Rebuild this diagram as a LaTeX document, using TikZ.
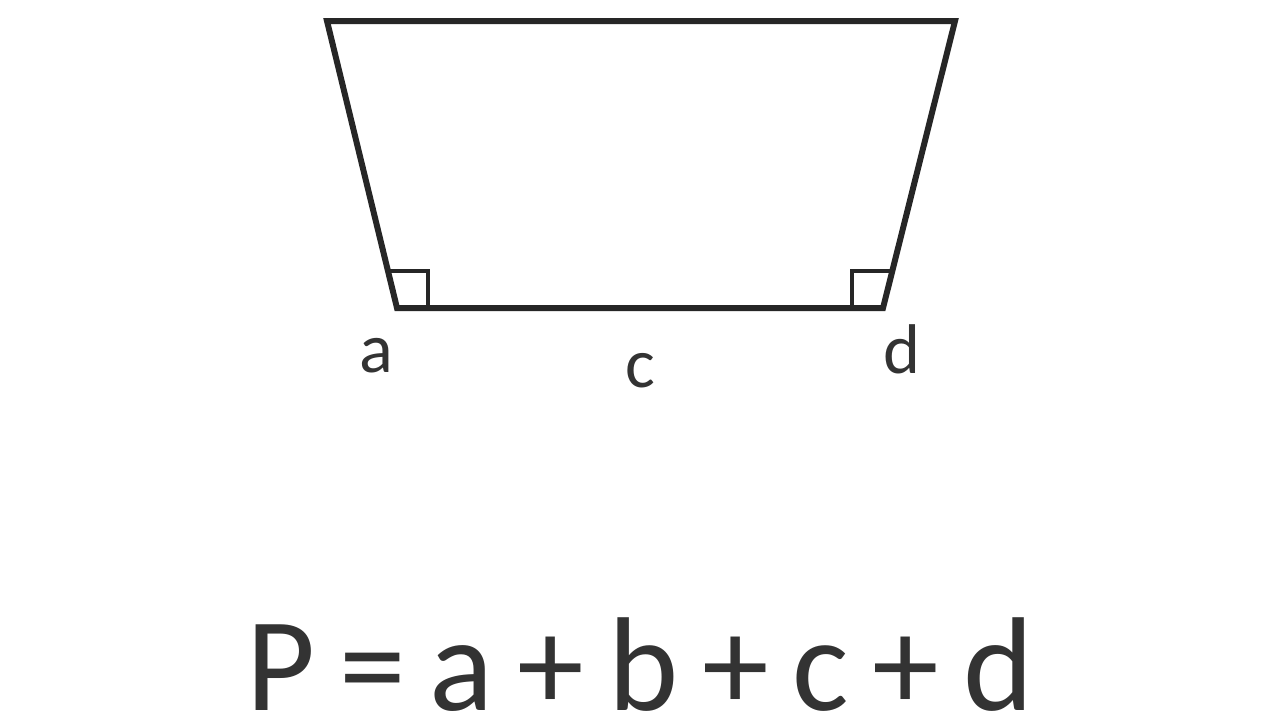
\documentclass[tikz,border=0pt]{standalone}
\usepackage{fontspec}
\setmainfont{Carlito}
\usepackage{tikz}
\usetikzlibrary{calc}
\definecolor{ink}{HTML}{262626}
\definecolor{txt}{HTML}{333333}
\newcommand\tightwords{\spaceskip 6.8pt\relax}

\begin{document}
\begin{tikzpicture}[x=0.01cm, y=-0.01cm]
\tikzset{edge/.style={draw=ink, line width=1.7pt},
  rightmark/.style={draw=ink, line width=1.1pt},
  lbl/.style={text=txt, font=\fontsize{20}{24}\selectfont, anchor=base, inner sep=0pt},
  formula/.style={text=txt, font=\fontsize{38}{44}\selectfont\tightwords, anchor=base, inner sep=0pt, text depth=0pt}}
\useasboundingbox[fill=white] (0,0) rectangle (1280,720);
% corners of the trapezoid
\coordinate (tl) at (327,21);
\coordinate (tr) at (955,21);
\coordinate (br) at (883,308);
\coordinate (bl) at (397,308);
\draw[edge] (tl) -- (tr) -- (br) -- (bl) -- cycle;
% right-angle marks
\draw[rightmark] (428,308) -- (428,271) -- ($(bl)!37/287!(tl)$);
\draw[rightmark] (852,308) -- (852,271) -- ($(br)!37/287!(tr)$);
% labels
\node[lbl] (la) at (376,372) {a};
\node[lbl] (lc) at (640,387) {c};
\node[lbl] (ld) at (902,373) {d};
\node[formula] (perim) at (640,710) {P = a + b + c + d};
\end{tikzpicture}
\end{document}
